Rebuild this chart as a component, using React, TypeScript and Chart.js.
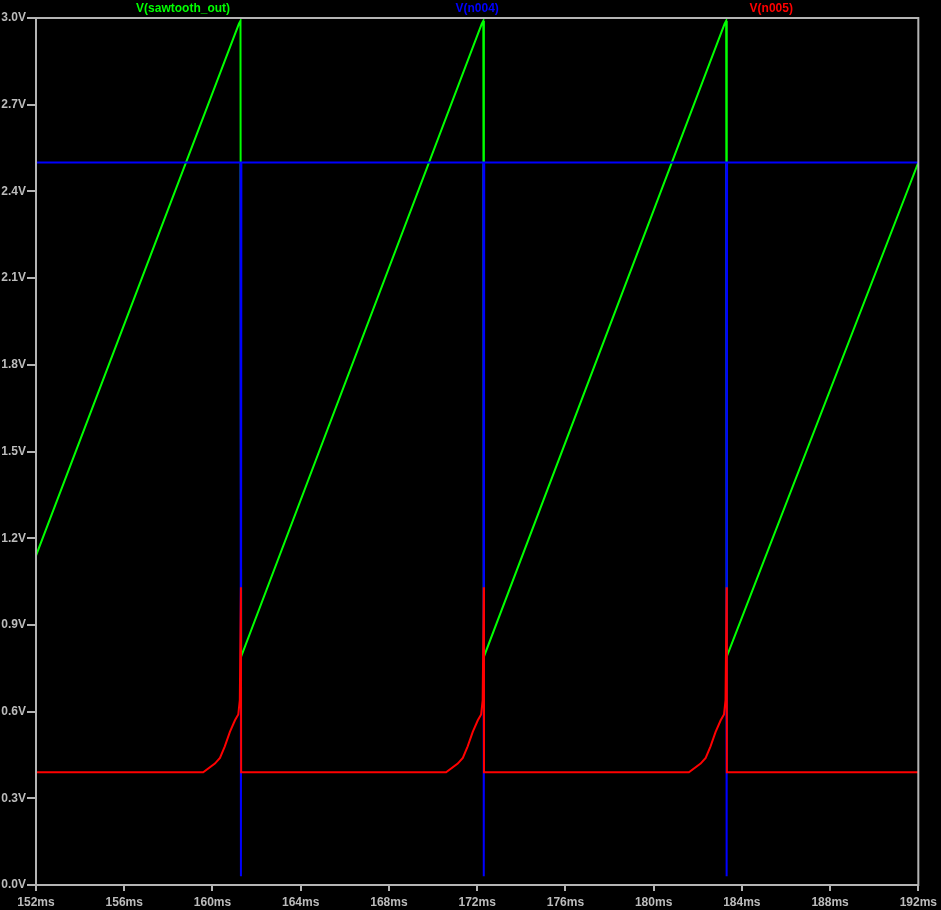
import React, { useEffect, useRef } from "react";
import { Chart, registerables } from "chart.js";

Chart.register(...registerables);

// ---- Data (time in ms, voltage in V) ----
const sawTimes = [152.0, 161.05, 161.2, 161.27, 161.29, 161.3, 172.06, 172.21, 172.28, 172.3, 172.31, 183.07, 183.22, 183.29, 183.31, 183.32, 192.0];
const sawValues = [1.14, 2.95, 2.98, 2.99, 2.99, 0.79, 2.95, 2.98, 2.99, 2.99, 0.79, 2.95, 2.98, 2.99, 2.99, 0.79, 2.5];

const n004Times = [152.0, 161.27, 161.29, 161.31, 172.28, 172.3, 172.32, 183.29, 183.31, 183.33, 192.0];
const n004Values = [2.5, 2.5, 0.03, 2.5, 2.5, 0.03, 2.5, 2.5, 0.03, 2.5, 2.5];

const n005Times = [
  152.0,
  159.58, 160.11, 160.34, 160.56, 160.79, 161.02, 161.17, 161.24, 161.29, 161.3,
  170.59, 171.12, 171.35, 171.57, 171.8, 172.03, 172.18, 172.25, 172.3, 172.31,
  181.6, 182.13, 182.36, 182.58, 182.81, 183.04, 183.19, 183.26, 183.31, 183.32,
  192.0,
];
const n005Values = [
  0.39,
  0.39, 0.42, 0.44, 0.48, 0.53, 0.57, 0.59, 0.64, 1.03, 0.39,
  0.39, 0.42, 0.44, 0.48, 0.53, 0.57, 0.59, 0.64, 1.03, 0.39,
  0.39, 0.42, 0.44, 0.48, 0.53, 0.57, 0.59, 0.64, 1.03, 0.39,
  0.39,
];

const xTickValues = [152, 156, 160, 164, 168, 172, 176, 180, 184, 188, 192];
const yTickValues = [0.0, 0.3, 0.6, 0.9, 1.2, 1.5, 1.8, 2.1, 2.4, 2.7, 3.0];

const traceNames = ["V(sawtooth_out)", "V(n004)", "V(n005)"];
const traceColors = ["#00ff00", "#0000ff", "#ff0000"];

const GREY = "#b4b4b4";
const LABEL = "#bcbcbc";
const FONT = "'Liberation Sans', Arial, sans-serif";

function toXY(ts: number[], vs: number[]) {
  return ts.map((t, i) => ({ x: t, y: vs[i] }));
}

export default function App() {
  const ref = useRef<HTMLCanvasElement | null>(null);

  useEffect(() => {
    document.body.style.margin = "0";
    document.body.style.background = "#000";
    const canvas = ref.current;
    if (!canvas) return;

    const framePlugin = {
      id: "frameAndTitles",
      afterDraw(chart: any) {
        const { ctx, chartArea } = chart;
        ctx.save();
        ctx.strokeStyle = GREY;
        ctx.lineWidth = 2;
        ctx.strokeRect(chartArea.left, chartArea.top, chartArea.right - chartArea.left, chartArea.bottom - chartArea.top);
        const w = chartArea.right - chartArea.left;
        ctx.font = `bold 12px ${FONT}`;
        ctx.textAlign = "center";
        ctx.textBaseline = "middle";
        traceNames.forEach((name, i) => {
          ctx.fillStyle = traceColors[i];
          ctx.fillText(name, chartArea.left + (w * (2 * i + 1)) / 6, 9);
        });
        ctx.restore();
      },
    };

    const common = {
      pointRadius: 0,
      borderWidth: 2,
      tension: 0,
      fill: false,
    };

    const chart = new Chart(canvas, {
      type: "line",
      data: {
        datasets: [
          { ...common, label: traceNames[2], data: toXY(n005Times, n005Values), borderColor: traceColors[2] },
          { ...common, label: traceNames[1], data: toXY(n004Times, n004Values), borderColor: traceColors[1] },
          { ...common, label: traceNames[0], data: toXY(sawTimes, sawValues), borderColor: traceColors[0] },
        ],
      },
      options: {
        responsive: false,
        maintainAspectRatio: false,
        animation: false,
        layout: { padding: { top: 18, right: 22, left: 0, bottom: 0 } },
        plugins: { legend: { display: false }, tooltip: { enabled: false } },
        scales: {
          x: {
            type: "linear",
            min: 152,
            max: 192,
            afterBuildTicks: (s: any) => {
              s.ticks = xTickValues.map((v) => ({ value: v }));
            },
            afterFit: (s: any) => {
              s.height = 25;
            },
            ticks: {
              autoSkip: false,
              maxRotation: 0,
              color: LABEL,
              padding: 4,
              font: { family: FONT, size: 12, weight: "bold" },
              callback: (v: any) => `${v}ms`,
            },
            grid: { drawOnChartArea: false, drawTicks: true, tickLength: 6, color: GREY, lineWidth: 2 },
            border: { display: false },
          },
          y: {
            type: "linear",
            min: 0,
            max: 3,
            afterBuildTicks: (s: any) => {
              s.ticks = yTickValues.map((v) => ({ value: v }));
            },
            afterFit: (s: any) => {
              s.width = 36;
            },
            ticks: {
              autoSkip: false,
              color: LABEL,
              padding: 1,
              font: { family: FONT, size: 12, weight: "bold" },
              callback: (v: any) => `${Number(v).toFixed(1)}V`,
            },
            grid: { drawOnChartArea: false, drawTicks: true, tickLength: 9, color: GREY, lineWidth: 2 },
            border: { display: false },
          },
        },
      } as any,
      plugins: [framePlugin],
    });

    return () => chart.destroy();
  }, []);

  return (
    <div style={{ position: "absolute", left: 0, top: 0, width: 941, height: 910, background: "#000" }}>
      <canvas ref={ref} width={941} height={910} style={{ display: "block", width: 941, height: 910 }} />
    </div>
  );
}
